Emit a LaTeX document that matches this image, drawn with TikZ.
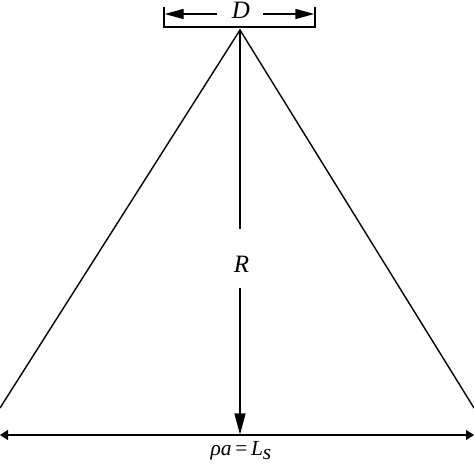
\documentclass[tikz,border=0pt]{standalone}
\usepackage{fontspec}
\setmainfont{Liberation Serif}
\usetikzlibrary{arrows.meta}
\begin{document}
\begin{tikzpicture}[x=1pt,y=1pt,
  ln/.style={line width=1.4pt, black},
  bigtip/.style={-{Triangle[length=21pt,width=11pt]}},
  toptip/.style={-{Triangle[length=19pt,width=10pt]}},
  edgetip/.style={{Triangle[length=8pt,width=10pt]}-{Triangle[length=8pt,width=10pt]}},
  lab/.style={inner sep=0pt, anchor=base, font=\fontsize{25}{25}\selectfont\itshape}]
\useasboundingbox (0,0) rectangle (474,474);
% key points
\coordinate (apex) at (240,444);
\coordinate (barL) at (164,447);
\coordinate (barR) at (315,447);
\coordinate (tickL) at (164,467);
\coordinate (tickR) at (315,467);
\coordinate (arrLs) at (217,460);
\coordinate (arrLe) at (164.7,460);
\coordinate (arrRs) at (263,460);
\coordinate (arrRe) at (314.3,460);
\coordinate (triL) at (0,66);
\coordinate (triR) at (474,66);
\coordinate (vtop) at (240,245);
\coordinate (vbotS) at (240,186);
\coordinate (vbot) at (240,39.5);
\coordinate (hL) at (0,39);
\coordinate (hR) at (474,39);
% top dimension
\draw[ln] (tickL) -- (barL) -- (barR) -- (tickR);
\node[lab] (D) at (241,455) {D};
\draw[ln,toptip] (arrLs) -- (arrLe);
\draw[ln,toptip] (arrRs) -- (arrRe);
% triangle sides
\draw[ln] (triL) -- (apex) -- (triR);
% vertical R
\draw[ln] (apex) -- (vtop);
\node[lab, font=\fontsize{25}{25}\selectfont\itshape] (R) at (241.5,201.5) {R};
\draw[ln,bigtip] (vbotS) -- (vbot);
% bottom span
\draw[ln,edgetip] (hL) -- (hR);
\node[lab, font=\fontsize{21.5}{21.5}\selectfont\itshape] (rho) at (241,18) {ρa\,{\upshape=}\,L\raisebox{-4pt}{s}};
\end{tikzpicture}
\end{document}
